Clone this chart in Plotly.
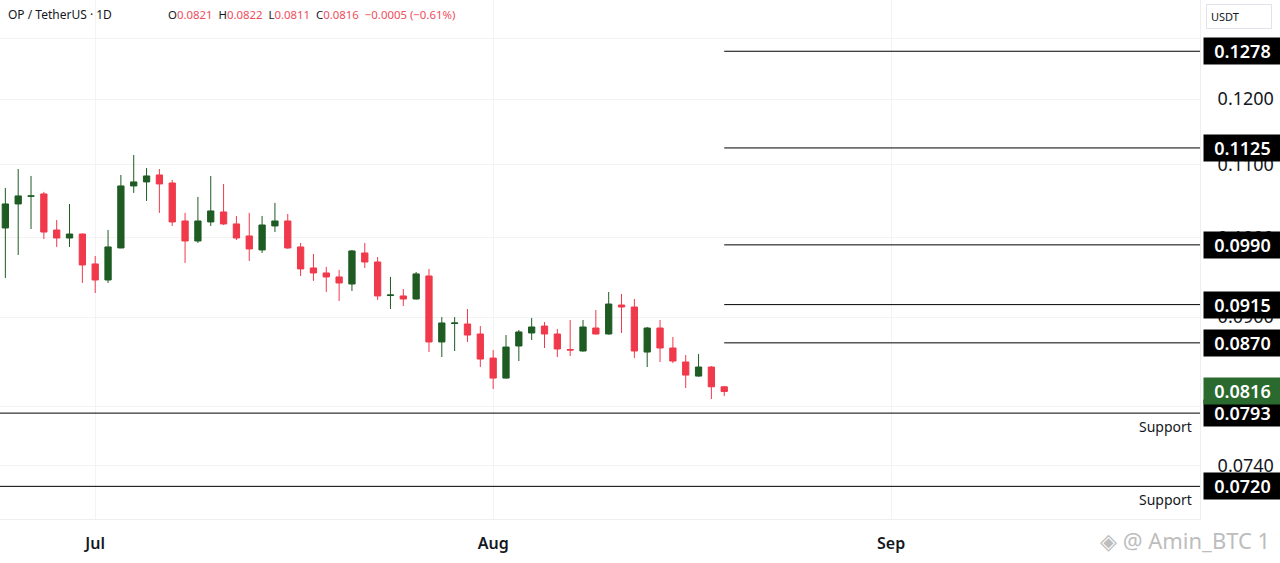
import numpy as np
import pandas as pd
import plotly.graph_objects as go

# daily OP/USDT candles, Jun 24 -> Aug 19
dates = pd.date_range("2025-06-24", "2025-08-19", freq="D")
opens = [0.10123, 0.10449, 0.10555, 0.10588, 0.10096, 0.09990, 0.10043, 0.09654,
         0.09452, 0.09860, 0.10700, 0.10757, 0.10856, 0.10742, 0.10217, 0.09951,
         0.10204, 0.10339, 0.10177, 0.10017, 0.09834, 0.10150, 0.10217, 0.09873,
         0.09603, 0.09540, 0.09490, 0.09402, 0.09795, 0.09679, 0.09260, 0.09255,
         0.09218, 0.09502, 0.08710, 0.08925, 0.08919, 0.08802, 0.08527, 0.08305,
         0.08664, 0.08814, 0.08895, 0.08802, 0.08624, 0.08607, 0.08872, 0.08802,
         0.09145, 0.09121, 0.08595, 0.08872, 0.08641, 0.08483, 0.08327, 0.08427,
         0.0821]
highs = [0.10672, 0.10942, 0.10842, 0.10616, 0.10231, 0.10449, 0.10050, 0.09756,
         0.10096, 0.10856, 0.11146, 0.10957, 0.10942, 0.10785, 0.10326, 0.10546,
         0.10842, 0.10728, 0.10285, 0.10326, 0.10285, 0.10463, 0.10312, 0.09925,
         0.09782, 0.09616, 0.09578, 0.09834, 0.09925, 0.09743, 0.09490, 0.09340,
         0.09553, 0.09591, 0.09001, 0.09001, 0.09097, 0.08895, 0.08618, 0.08790,
         0.08849, 0.08990, 0.08942, 0.08861, 0.08966, 0.08966, 0.09085, 0.09304,
         0.09279, 0.09218, 0.08884, 0.08966, 0.08767, 0.08561, 0.08572, 0.08438,
         0.0822]
lows = [0.09477, 0.09769, 0.10109, 0.09977, 0.09873, 0.09873, 0.09415, 0.09291,
        0.09415, 0.09855, 0.10602, 0.10490, 0.10326, 0.10150, 0.09667, 0.09925,
        0.10150, 0.10163, 0.09964, 0.09692, 0.09795, 0.10069, 0.09847, 0.09502,
        0.09440, 0.09304, 0.09194, 0.09316, 0.09603, 0.09206, 0.09097, 0.09133,
        0.09210, 0.08595, 0.08539, 0.08607, 0.08710, 0.08427, 0.08186, 0.08300,
        0.08494, 0.08733, 0.08641, 0.08539, 0.08550, 0.08600, 0.08795, 0.08795,
        0.08814, 0.08527, 0.08427, 0.08483, 0.08471, 0.08197, 0.08320, 0.08079,
        0.0811]
closes = [0.10449, 0.10560, 0.10560, 0.10069, 0.09990, 0.10043, 0.09641, 0.09452,
          0.09873, 0.10700, 0.10757, 0.10842, 0.10728, 0.10204, 0.09951, 0.10217,
          0.10353, 0.10177, 0.09990, 0.09847, 0.10163, 0.10217, 0.09860, 0.09591,
          0.09540, 0.09490, 0.09415, 0.09821, 0.09679, 0.09255, 0.09267, 0.09218,
          0.09528, 0.08710, 0.08931, 0.08931, 0.08790, 0.08516, 0.08305, 0.08652,
          0.08826, 0.08884, 0.08802, 0.08630, 0.08618, 0.08884, 0.08802, 0.09157,
          0.09121, 0.08607, 0.08872, 0.08641, 0.08494, 0.08338, 0.08427, 0.0821,
          0.0816]

resistance = [0.1278, 0.1125, 0.0990, 0.0915, 0.0870]
support = [0.0793, 0.0720]

month_ticks = ["2025-07-01", "2025-08-01", "2025-09-01"]
month_labels = ["Jul", "Aug", "Sep"]
price_ticks = [0.074, 0.08, 0.09, 0.10, 0.11, 0.12, 0.13]
price_labels = ["0.0740", "0.0800", "0.0900", "0.1000", "0.1100", "0.1200", ""]

GREEN = "#1e5c24"
RED = "#f0394b"
INK = "#131722"
FONT = "Noto Sans"

x_start = pd.Timestamp("2025-06-23 14:00")
x_end = pd.Timestamp("2025-09-25 01:30")

fig = go.Figure()

fig.add_trace(go.Candlestick(
    x=dates, open=opens, high=highs, low=lows, close=closes,
    increasing=dict(line=dict(color=GREEN, width=1), fillcolor=GREEN),
    decreasing=dict(line=dict(color=RED, width=1), fillcolor=RED),
    whiskerwidth=0, showlegend=False, hoverinfo="skip",
))

# resistance lines start at the last candle, supports run full width
for lvl in resistance:
    fig.add_trace(go.Scatter(x=[dates[-1], x_end], y=[lvl, lvl], mode="lines",
                             line=dict(color="black", width=1), showlegend=False,
                             hoverinfo="skip"))
for lvl in support:
    fig.add_trace(go.Scatter(x=[x_start, x_end], y=[lvl, lvl], mode="lines",
                             line=dict(color="black", width=1), showlegend=False,
                             hoverinfo="skip"))

annotations = []

# price tags on the right axis
def price_tag(val, bg):
    return dict(x=1, xref="paper", xanchor="left", xshift=3,
                y=np.log10(val), yref="y", yanchor="middle",
                text=f"{val:.4f}", showarrow=False, bgcolor=bg,
                font=dict(family=FONT, size=18, color="white", weight=600),
                width=73, height=22, borderpad=2, align="center")

for lvl in resistance + support:
    annotations.append(price_tag(lvl, "black"))
annotations.append(price_tag(closes[-1], "#2b6a2f"))

for lvl in support:
    annotations.append(dict(x=1, xref="paper", xanchor="right", xshift=-6,
                            y=np.log10(lvl), yref="y", yanchor="middle", yshift=-13,
                            text="Support", showarrow=False,
                            font=dict(family=FONT, size=14, color=INK)))

# header line
change = closes[-1] - closes[-2]
pct = change / closes[-2] * 100
def red(s):
    return f"<span style='color:#ee4d5c'>{s}</span>"
ohlc = (f"O{red(f'{opens[-1]:.4f}')}  H{red(f'{highs[-1]:.4f}')}  "
        f"L{red(f'{lows[-1]:.4f}')}  C{red(f'{closes[-1]:.4f}')}  "
        + red(f"{change:+.4f} ({pct:+.2f}%)".replace("-", "−")))
annotations.append(dict(x=0, xref="paper", xanchor="left", xshift=6,
                        y=1, yref="paper", yanchor="middle", yshift=-14,
                        text="OP / TetherUS · 1D", showarrow=False,
                        font=dict(family=FONT, size=12, color=INK)))
annotations.append(dict(x=0, xref="paper", xanchor="left", xshift=166,
                        y=1, yref="paper", yanchor="middle", yshift=-14,
                        text=ohlc, showarrow=False,
                        font=dict(family=FONT, size=11.4, color=INK)))

# currency box
annotations.append(dict(x=1, xref="paper", xanchor="left", xshift=6,
                        y=1, yref="paper", yanchor="middle", yshift=-16,
                        text="USDT", showarrow=False, bgcolor="white",
                        bordercolor="#e0e3eb", borderwidth=1, borderpad=4,
                        width=56, align="left",
                        font=dict(family=FONT, size=11, color=INK)))

# watermark
annotations.append(dict(x=1, xref="paper", xanchor="right", xshift=72,
                        y=0, yref="paper", yanchor="middle", yshift=-21,
                        text="◈ @ Amin_BTC 1", showarrow=False,
                        font=dict(family=FONT, size=22, color="#bdbdbd")))

fig.update_layout(
    width=1280, height=563,
    margin=dict(l=0, r=80, t=0, b=44),
    plot_bgcolor="white", paper_bgcolor="white",
    font=dict(family=FONT, color=INK),
    annotations=annotations,
    xaxis=dict(
        type="date", range=[x_start, x_end], rangeslider=dict(visible=False),
        tickvals=month_ticks, ticktext=month_labels, ticks="",
        tickfont=dict(family=FONT, size=16, color=INK, weight=600),
        showgrid=True, gridcolor="#f3f3f3", gridwidth=1,
        showline=True, linecolor="#eeeeee", zeroline=False,
        ticklabelstandoff=10,
    ),
    yaxis=dict(
        type="log", side="right",
        range=[np.log10(0.12) - 420 / 1746, np.log10(0.12) + 99 / 1746],
        tickvals=price_ticks, ticktext=price_labels, ticks="",
        tickfont=dict(family=FONT, size=18, color=INK),
        showgrid=True, gridcolor="#f3f3f3", gridwidth=1,
        showline=True, linecolor="#eeeeee", zeroline=False,
        ticklabelstandoff=13,
    ),
)

fig.write_html("out.html", config={"displayModeBar": False},
               post_script="document.body.style.margin='0';document.body.style.overflow='hidden';")
